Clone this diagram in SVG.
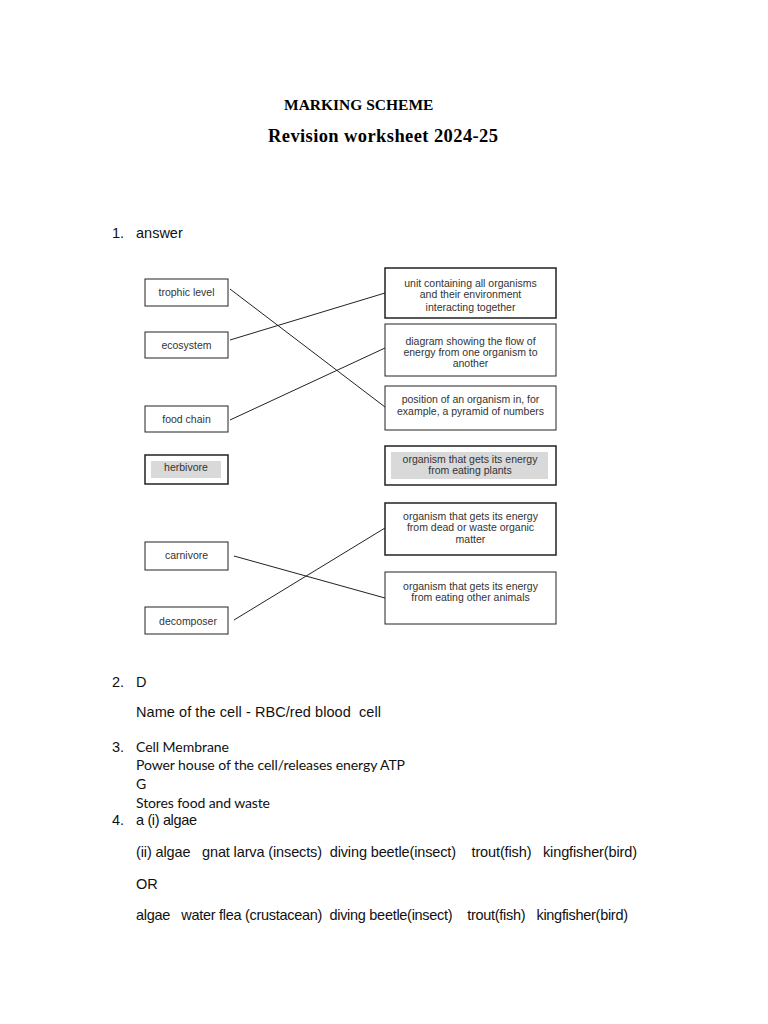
<svg xmlns="http://www.w3.org/2000/svg" width="768" height="1024" viewBox="0 0 768 1024">
<style>
.title{font-family:"Liberation Serif",serif;font-weight:bold;fill:#000}
.t{font-family:"Liberation Sans",Arial,sans-serif;font-size:14.5px;fill:#111}
.c{font-family:"Lato","Liberation Sans",sans-serif;font-size:14px;fill:#111}
.b{fill:#fff;stroke:#222;stroke-width:1}
.bt{fill:#fff;stroke:#222;stroke-width:1.5}
.g{fill:#d9d9d9}
.l{font-family:"Liberation Sans",Arial,sans-serif;font-size:10.5px;fill:#333;text-anchor:middle}
.cn{stroke:#222;stroke-width:1;fill:none}
</style>
<rect width="768" height="1024" fill="#fff"/>
<text class="title" x="284" y="110" font-size="15.5">MARKING SCHEME</text>
<text class="title" x="268" y="142" font-size="18.5" textLength="230">Revision worksheet 2024-25</text>
<text class="t" x="112" y="238">1.</text>
<text class="t" x="136" y="238">answer</text>

<g id="connectors">
<line class="cn" x1="230" y1="289" x2="385" y2="407"/>
<line class="cn" x1="230" y1="340" x2="385" y2="293"/>
<line class="cn" x1="230" y1="420" x2="385" y2="348"/>
<line class="cn" x1="234" y1="556" x2="385" y2="598"/>
<line class="cn" x1="234" y1="620" x2="385" y2="528"/>
</g>

<g id="trophic-level"><rect class="b" x="145" y="279" width="83" height="27"/><text class="l" x="186.5" y="296">trophic level</text></g>
<g id="ecosystem"><rect class="b" x="145" y="332" width="83" height="26"/><text class="l" x="186.5" y="348.5">ecosystem</text></g>
<g id="food-chain"><rect class="b" x="145" y="406" width="83" height="26"/><text class="l" x="186.5" y="423">food chain</text></g>
<g id="herbivore"><rect class="bt" x="145" y="455" width="83" height="29"/><rect class="g" x="151" y="461" width="70" height="17"/><text class="l" x="186" y="471">herbivore</text></g>
<g id="carnivore"><rect class="b" x="145" y="542" width="83" height="28"/><text class="l" x="186.5" y="559">carnivore</text></g>
<g id="decomposer"><rect class="b" x="145" y="607" width="83" height="27"/><text class="l" x="188" y="624.5">decomposer</text></g>

<g id="def-ecosystem"><rect class="bt" x="385" y="268" width="171" height="50"/><text class="l" x="470.5" y="286.5">unit containing all organisms</text><text class="l" x="470.5" y="298">and their environment</text><text class="l" x="470.5" y="310.5">interacting together</text></g>
<g id="def-food-chain"><rect class="b" x="385" y="324" width="171" height="52"/><text class="l" x="470.5" y="345">diagram showing the flow of</text><text class="l" x="470.5" y="356">energy from one organism to</text><text class="l" x="470.5" y="367">another</text></g>
<g id="def-trophic"><rect class="b" x="385" y="386" width="171" height="44"/><text class="l" x="470.5" y="403">position of an organism in, for</text><text class="l" x="470.5" y="415">example, a pyramid of numbers</text></g>
<g id="def-herbivore"><rect class="bt" x="385" y="446" width="171" height="39"/><rect class="g" x="391" y="452" width="157" height="27"/><text class="l" x="470" y="463">organism that gets its energy</text><text class="l" x="470" y="474">from eating plants</text></g>
<g id="def-decomposer"><rect class="bt" x="385" y="503" width="171" height="52"/><text class="l" x="470.5" y="520">organism that gets its energy</text><text class="l" x="470.5" y="531">from dead or waste organic</text><text class="l" x="470.5" y="543">matter</text></g>
<g id="def-carnivore"><rect class="b" x="385" y="572" width="171" height="52"/><text class="l" x="470.5" y="590">organism that gets its energy</text><text class="l" x="470.5" y="601">from eating other animals</text></g>

<text class="t" x="112" y="687">2.</text>
<text class="t" x="136" y="687">D</text>
<text class="t" x="136" y="717" textLength="245" xml:space="preserve">Name of the cell - RBC/red blood  cell</text>
<text class="t" x="112" y="752">3.</text>
<text class="c" x="136" y="752" textLength="93">Cell Membrane</text>
<text class="c" x="136" y="770" textLength="269">Power house of the cell/releases energy ATP</text>
<text class="c" x="136" y="789">G</text>
<text class="c" x="136" y="808" textLength="134">Stores food and waste</text>
<text class="t" x="112" y="825">4.</text>
<text class="t" x="136" y="825" textLength="61">a (i) algae</text>
<text class="t" x="136" y="857" textLength="501" xml:space="preserve">(ii) algae   gnat larva (insects)  diving beetle(insect)    trout(fish)   kingfisher(bird)</text>
<text class="t" x="136" y="889">OR</text>
<text class="t" x="136" y="920" textLength="492" xml:space="preserve">algae   water flea (crustacean)  diving beetle(insect)    trout(fish)   kingfisher(bird)</text>
</svg>
